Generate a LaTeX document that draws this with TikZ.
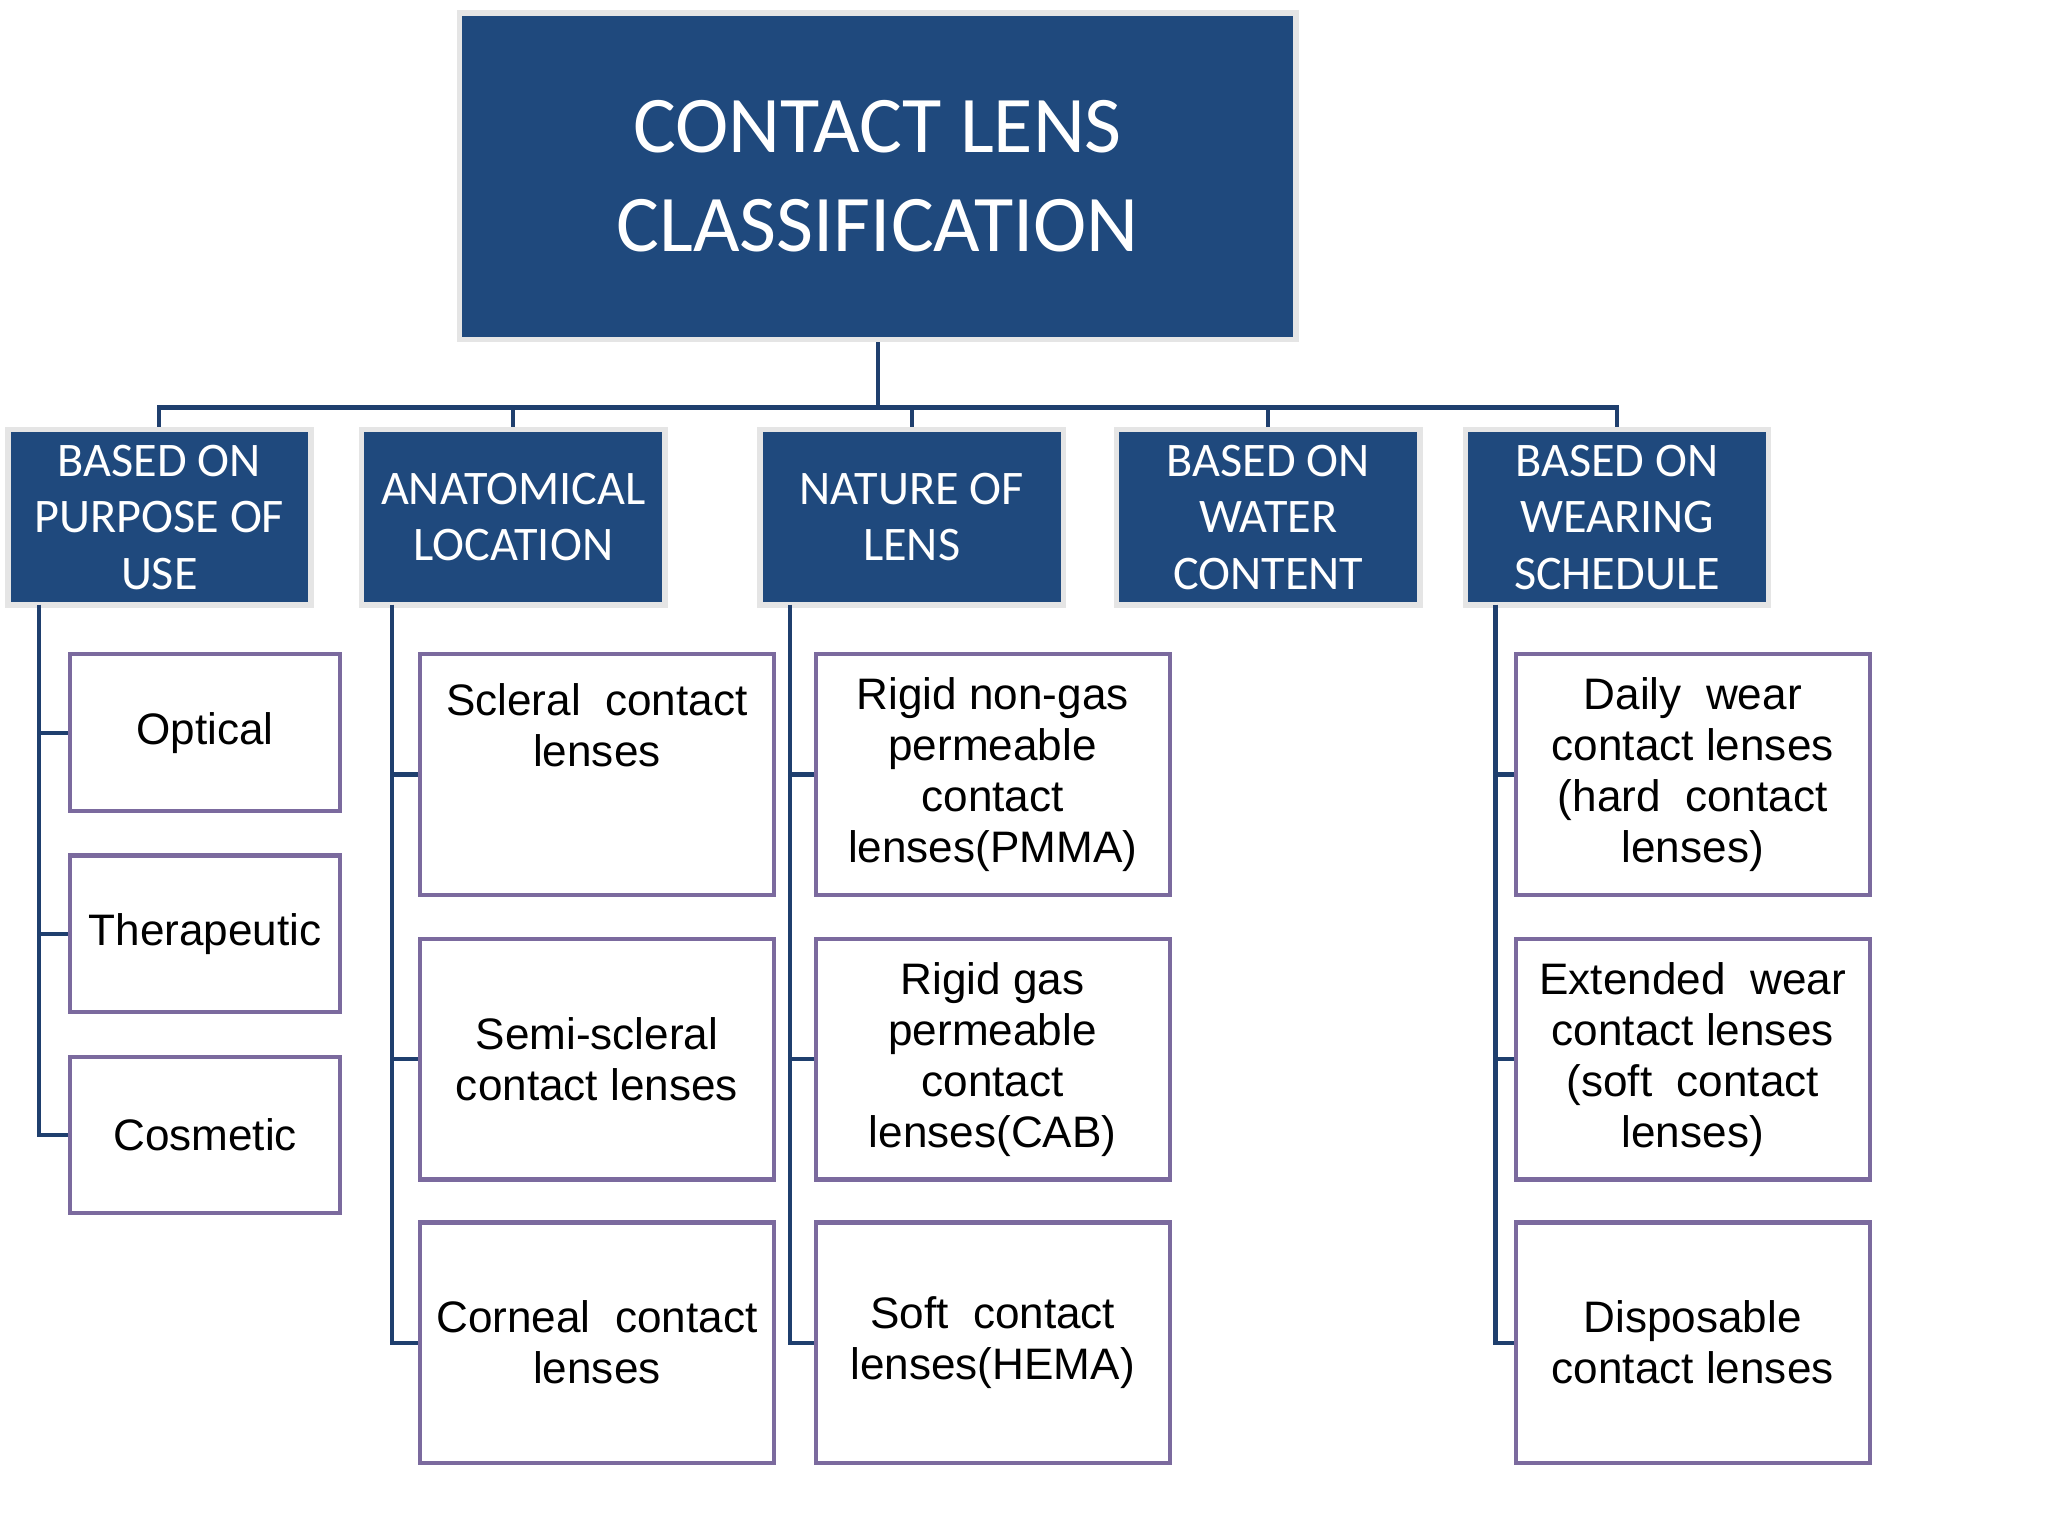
\documentclass[tikz,border=0pt]{standalone}
\usepackage{fontspec}
\setmainfont{Liberation Sans}
\newfontfamily\capfont{Carlito}
\begin{document}
\begin{tikzpicture}[x=0.01cm,y=-0.01cm,
  head/.style={fill=hdblue,draw=gray!20,line width=1.2pt,text=white,align=center,inner sep=0pt,font=\capfont},
  cat/.style={head,minimum width=2.32cm,minimum height=1.34cm,font=\capfont\fontsize{10.5}{12.3}\selectfont},
  leaf/.style={draw=leafpurple,line width=0.9pt,fill=white,align=center,inner sep=0pt,minimum width=2.71cm,minimum height=1.84cm,font=\fontsize{9.6}{11.1}\selectfont},
  sleaf/.style={leaf,minimum width=2.07cm,minimum height=1.2cm},
  con/.style={draw=lineblue,line width=0.9pt}]
\definecolor{hdblue}{HTML}{1F497D}
\definecolor{lineblue}{HTML}{1F3F6E}
\definecolor{leafpurple}{HTML}{7B6A9E}
\useasboundingbox (0,0) rectangle (1568,1176);
\node[head,minimum width=6.4cm,minimum height=2.5cm,font=\capfont\fontsize{17.5}{21.5}\selectfont] (t) at (672,135) {CONTACT LENS\\CLASSIFICATION};
\node[cat] (c1) at (122,396) {BASED ON\\PURPOSE OF\\USE};
\node[cat] (c2) at (393,396) {ANATOMICAL\\LOCATION};
\node[cat] (c3) at (698,396) {NATURE OF\\LENS};
\node[cat] (c4) at (971,396) {BASED ON\\WATER\\CONTENT};
\node[cat] (c5) at (1238,396) {BASED ON\\WEARING\\SCHEDULE};
\coordinate (bar) at (672,312);
\draw[con] (t.south) -- (bar);
\draw[con] (c1.north) -- (c1.north |- bar) -- (c5.north |- bar) -- (c5.north);
\foreach \c in {c2,c3,c4} \draw[con] (\c.north |- bar) -- (\c.north);
% group 1
\node[sleaf] (a1) at (157,561) {Optical};
\node[sleaf] (a2) at (157,715) {Therapeutic};
\node[sleaf] (a3) at (157,869) {Cosmetic};
% group 2
\node[leaf] (b1) at (457,593) {Scleral\ \ contact\\lenses\\[1.1em]};
\node[leaf] (b2) at (457,811) {Semi-scleral\\contact lenses};
\node[leaf] (b3) at (457,1028) {Corneal\ \ contact\\lenses};
% group 3
\node[leaf] (n1) at (760,593) {Rigid non-gas\\permeable\\contact\\lenses(PMMA)};
\node[leaf] (n2) at (760,811) {Rigid gas\\permeable\\contact\\lenses(CAB)};
\node[leaf] (n3) at (760,1028) {Soft\ \ contact\\lenses(HEMA)};
% group 5
\node[leaf] (w1) at (1296,593) {Daily\ \ wear\\contact lenses\\(hard\ \ contact\\lenses)};
\node[leaf] (w2) at (1296,811) {Extended\ \ wear\\contact lenses\\(soft\ \ contact\\lenses)};
\node[leaf] (w3) at (1296,1028) {Disposable\\contact lenses};
% spines
\coordinate (s1) at (30,463);
\coordinate (s2) at (300,463);
\coordinate (s3) at (605,463);
\coordinate (s5) at (1145,463);
\draw[con] (s1) -- (s1 |- a3.west) -- (a3.west);
\draw[con] (s1 |- a1.west) -- (a1.west);
\draw[con] (s1 |- a2.west) -- (a2.west);
\draw[con] (s2) -- (s2 |- b3.west) -- (b3.west);
\draw[con] (s2 |- b1.west) -- (b1.west);
\draw[con] (s2 |- b2.west) -- (b2.west);
\draw[con] (s3) -- (s3 |- n3.west) -- (n3.west);
\draw[con] (s3 |- n1.west) -- (n1.west);
\draw[con] (s3 |- n2.west) -- (n2.west);
\draw[con] (s5) -- (s5 |- w3.west) -- (w3.west);
\draw[con] (s5 |- w1.west) -- (w1.west);
\draw[con] (s5 |- w2.west) -- (w2.west);
\end{tikzpicture}
\end{document}
